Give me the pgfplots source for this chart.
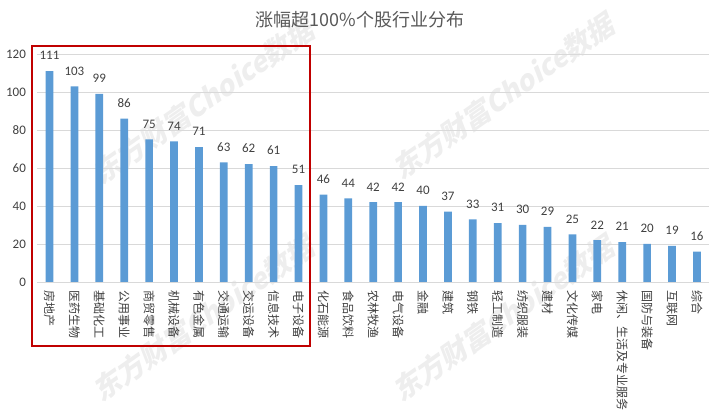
\documentclass[border=0pt]{standalone}
\usepackage{pgfplots}
\pgfplotsset{compat=1.18}
\usepackage{fontspec}
\setmainfont{Carlito}
\newfontfamily\cjk{Noto Sans CJK SC}
\definecolor{barblue}{HTML}{5B9BD5}
\definecolor{txtgray}{HTML}{404040}
\definecolor{titlegray}{HTML}{595959}
\definecolor{gridgray}{HTML}{D9D9D9}
\definecolor{boxred}{HTML}{C00000}
\definecolor{wmgray}{HTML}{EEEEEE}
\begin{document}
\begin{tikzpicture}
\foreach \cx/\cy in {205/312, 505/317, 205/95, 505/95}{
  \node[text=wmgray, rotate=35, xslant=0.25, font=\cjk\bfseries\fontsize{28bp}{30bp}\selectfont] at (\cx bp,\cy bp) {东方财富Choice数据};
}
\begin{axis}[
  at={(37.05bp,130bp)}, anchor=south west,
  scale only axis, width=672.3bp, height=228bp,
  xmin=-0.5, xmax=26.5, ymin=0, ymax=120,
  ytick={0,20,...,120},
  xtick={0,...,26},
  xticklabels={房地产,医药生物,基础化工,公用事业,商贸零售,机械设备,有色金属,交通运输,交运设备,信息技术,电子设备,化石能源,食品饮料,农林牧渔,电气设备,金融,建筑,钢铁,轻工制造,纺织服装,建材,文化传媒,家电,休闲、生活及专业服务,国防与装备,互联网,综合},
  xticklabel style={rotate=-90, anchor=west, inner xsep=8bp, inner ysep=0pt, font=\cjk\fontsize{12bp}{12bp}\selectfont, text=txtgray},
  yticklabel style={anchor=east, inner sep=0pt, xshift=-11bp, font=\fontsize{13bp}{13bp}\selectfont, text=txtgray},
  /pgf/number format/assume math mode=true,
  major tick length=0pt,
  axis line style={draw=none},
  ymajorgrids, grid style={gridgray, line width=0.8bp},
  ybar, bar width=7.7bp,
  nodes near coords,
  every node near coord/.append style={font=\fontsize{13bp}{13bp}\selectfont, text=txtgray, inner sep=0pt, anchor=south, yshift=11bp},
]
\addplot[fill=barblue, draw=none] coordinates {
(0,111) (1,103) (2,99) (3,86) (4,75) (5,74) (6,71) (7,63) (8,62) (9,61) (10,51)
(11,46) (12,44) (13,42) (14,42) (15,40) (16,37) (17,33) (18,31) (19,30) (20,29)
(21,25) (22,22) (23,21) (24,20) (25,19) (26,16)};
\end{axis}
\draw[boxred, line width=2bp] (31.5bp,366bp) rectangle (310bp,66bp);
\node[text=titlegray, font=\cjk\fontsize{18bp}{20bp}\selectfont] at (360bp,392bp) {涨幅超100\%个股行业分布};
\pgfresetboundingbox
\useasboundingbox (0,0) rectangle (717bp,412bp);
\end{tikzpicture}
\end{document}
